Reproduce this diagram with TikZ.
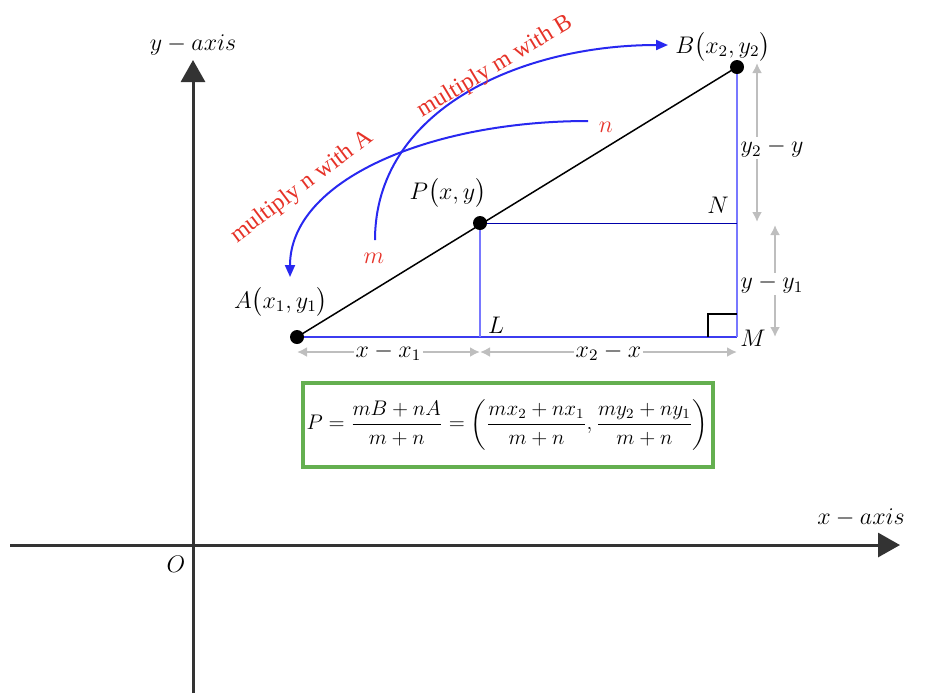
\documentclass[tikz,border=0pt]{standalone}
\usepackage{fontspec}
\setmainfont{Liberation Serif}
\usepackage{amsmath}
\usetikzlibrary{arrows.meta, calc, positioning}

\definecolor{axisgray}{RGB}{51,51,51}
\definecolor{dimgray}{RGB}{190,190,190}
\definecolor{lineblue}{RGB}{60,60,240}
\definecolor{paleblue}{RGB}{120,120,255}
\definecolor{navyblue}{RGB}{0,0,170}
\definecolor{curveblue}{RGB}{40,40,240}
\definecolor{labelred}{RGB}{230,50,40}
\definecolor{boxgreen}{RGB}{100,175,80}

\begin{document}
\begin{tikzpicture}[x=0.5pt,y=-0.5pt,
    lbl/.style={font=\fontsize{11.5}{14}\selectfont, text=black, inner sep=1pt},
    redlbl/.style={font=\fontsize{12}{14}\selectfont, text=labelred, inner sep=1pt},
    dimline/.style={dimgray, line width=1pt, {Latex[length=5pt,width=5pt]}-{Latex[length=5pt,width=5pt]}},
    axis/.style={axisgray, line width=1.5pt, -{Triangle[length=11pt,width=12pt]}},
    ratiocurve/.style={curveblue, line width=1pt, -{Triangle[length=6pt,width=5pt]}},
    dot/.style={circle, fill=black, inner sep=0pt, minimum size=7pt}]
        \useasboundingbox (0,0) rectangle (940,693);

        % axes
        \coordinate (xs) at (10,545);
        \coordinate (xe) at (900,545);
        \coordinate (ys) at (193,693);
        \coordinate (ye) at (193,60);
        \draw[axis] (xs) -- (xe);
        \draw[axis] (ys) -- (ye);
        \node[lbl] (olbl) at (176,564) {$O$};
        \node[lbl] (xlbl) at (861,518) {$x-axis$};
        \node[lbl] (ylbl) at (193,45) {$y-axis$};

        % points
        \coordinate (A) at (297,337);
        \coordinate (B) at (737,67);
        \coordinate (P) at (480,223);
        \coordinate (L) at (480,337);
        \coordinate (M) at (737,337);
        \coordinate (N) at (737,223);

        \draw[lineblue, line width=0.75pt] (A) -- (M);
        \draw[paleblue, line width=1pt] (M) -- (B);
        \draw[paleblue, line width=1pt] (P) -- (L);
        \draw[navyblue, line width=0.5pt] (P) -- (N);
        \draw[line width=0.75pt] (A) -- (B);
        \draw[line width=0.9pt] ($(M)+(-29,0)$) -- ++(0,-23) -- ++(29,0);

        \node[dot] (dotA) at (A) {};
        \node[dot] (dotB) at (B) {};
        \node[dot] (dotP) at (P) {};

        \node[lbl] (Albl) at (281,302) {$A\big(x_1,y_1\big)$};
        \node[lbl] (Blbl) at (723,47) {$B\big(x_2,y_2\big)$};
        \node[lbl] (Plbl) at (448,193) {$P\big(x,y\big)$};
        \node[lbl] (Llbl) at (496,325) {$L$};
        \node[lbl] (Nlbl) at (718,205) {$N$};
        \node[lbl] (Mlbl) at (753,338) {$M$};

        % dimensions
        \coordinate (hx1) at ($(A)+(0,15)$);
        \coordinate (hx2) at ($(L)+(0,15)$);
        \coordinate (hx3) at ($(M)+(0,15)$);
        \draw[dimline] (hx1) -- (hx2) node[midway, fill=white, lbl] (dx1) {$x-x_1$};
        \draw[dimline] (hx2) -- (hx3) node[midway, fill=white, lbl] (dx2) {$x_2-x$};
        \coordinate (vb1) at ($(B)+(20,-4)$);
        \coordinate (vb2) at ($(N)+(20,-1)$);
        \coordinate (vc1) at ($(N)+(38,2)$);
        \coordinate (vc2) at ($(M)+(38,0)$);
        \draw[dimline] (vb1) -- (vb2);
        \draw[dimline] (vc1) -- (vc2);
        \node[lbl, fill=white] (dy2) at (772,148) {$y_2-y$};
        \node[lbl, fill=white] (dy1) at (772,284) {$y-y_1$};

        % formula box
        \node[lbl, draw=boxgreen, line width=2pt, minimum width=205pt, minimum height=42pt] (fbox) at (507.5,424.5)
            {\scalebox{0.88}{$P=\dfrac{mB+nA}{m+n}=\left(\dfrac{mx_2+nx_1}{m+n},\dfrac{my_2+ny_1}{m+n}\right)$}};

        % ratio curves
        \coordinate (mS) at (375,240);
        \coordinate (mE) at (668,45);
        \coordinate (nS) at (588,121);
        \coordinate (nE) at (290,277);
        \draw[ratiocurve] (mS) .. controls (375,110) and (520,45) .. (mE);
        \draw[ratiocurve] (nS) .. controls (430,121) and (290,180) .. (nE);
        \node[redlbl] (mlbl) at (374,258) {$m$};
        \node[redlbl] (nlbl) at (606,127) {$n$};
        \node[redlbl, rotate=31] (mtxt) at (495,67) {multiply m with B};
        \node[redlbl, rotate=37] (ntxt) at (302,187) {multiply n with A};
    \end{tikzpicture}
\end{document}
